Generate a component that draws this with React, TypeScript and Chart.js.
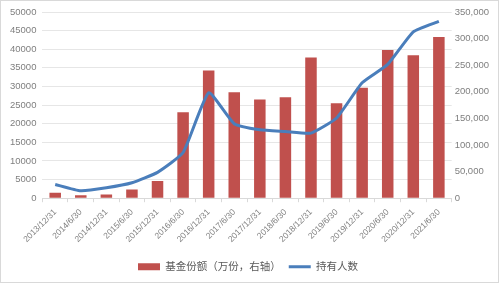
import React, { useEffect, useRef } from "react";
import { Chart, registerables } from "chart.js";

Chart.register(...registerables);

const categories = [
  "2013/12/31", "2014/6/30", "2014/12/31", "2015/6/30", "2015/12/31", "2016/6/30",
  "2016/12/31", "2017/6/30", "2017/12/31", "2018/6/30", "2018/12/31", "2019/6/30",
  "2019/12/31", "2020/6/30", "2020/12/31", "2021/6/30",
];
const fundShares = [
  1450, 800, 1000, 2350, 4600, 23050, 34300, 28450, 26500, 27100, 37800, 25500,
  29650, 39800, 38400, 43300,
];
const holders = [
  25900, 13900, 19500, 29000, 48600, 85800, 198000, 140000, 128700, 125500, 122300,
  150700, 217000, 251600, 312800, 332400,
];
const seriesNames = ["基金份额（万份，右轴）", "持有人数"];

const FONT = "'Liberation Sans', 'Noto Sans CJK SC', sans-serif";

const borderPlugin = {
  id: "outerBorder",
  afterDraw(chart: any) {
    const ctx = chart.ctx;
    ctx.save();
    ctx.strokeStyle = "#d9d9d9";
    ctx.lineWidth = 1;
    ctx.strokeRect(0.5, 0.5, chart.width - 2, chart.height - 1);
    ctx.restore();
  },
};

export default function App() {
  const ref = useRef<HTMLCanvasElement>(null);
  useEffect(() => {
    if (!ref.current) return;
    const chart = new Chart(ref.current, {
      type: "bar",
      data: {
        labels: categories,
        datasets: [
          {
            type: "bar",
            label: seriesNames[0],
            data: fundShares,
            backgroundColor: "#c0504d",
            borderWidth: 0,
            yAxisID: "y",
            barPercentage: 0.45,
            categoryPercentage: 1,
            pointStyle: "rect",
            order: 2,
          } as any,
          {
            type: "line",
            label: seriesNames[1],
            data: holders,
            borderColor: "#4a7ebb",
            backgroundColor: "#4a7ebb",
            borderWidth: 3,
            pointRadius: 0,
            tension: 0.15,
            yAxisID: "y1",
            pointStyle: "line",
            order: 1,
          } as any,
        ],
      },
      options: {
        responsive: false,
        animation: false,
        layout: { padding: { left: 4, right: 8, top: 12, bottom: 1 } },
        plugins: {
          tooltip: { enabled: false },
          legend: {
            position: "bottom",
            labels: {
              usePointStyle: true,
              pointStyleWidth: 22,
              boxHeight: 7,
              padding: 8,
              color: "#595959",
              font: { family: FONT, size: 10.5 },
              sort: (a: any, b: any) => a.datasetIndex - b.datasetIndex,
            },
          },
        },
        scales: {
          x: {
            afterFit: (scale: any) => {
              scale.height += 4;
            },
            grid: {
              display: true,
              drawOnChartArea: false,
              drawTicks: true,
              tickLength: 4,
              color: "#d9d9d9",
              offset: true,
            },
            border: { display: true, color: "#d9d9d9" },
            ticks: {
              minRotation: 45,
              maxRotation: 45,
              autoSkip: false,
              padding: 5,
              color: "#7f7f7f",
              font: { family: FONT, size: 8.5 },
            },
          },
          y: {
            position: "left",
            min: 0,
            max: 50000,
            grid: { color: "#e6e6e6", drawTicks: false },
            border: { display: false },
            ticks: {
              stepSize: 5000,
              padding: 6,
              color: "#7f7f7f",
              font: { family: FONT, size: 9.5 },
              callback: (v: any) => String(v),
            },
          },
          y1: {
            position: "right",
            min: 0,
            max: 350000,
            grid: { drawOnChartArea: false, drawTicks: false },
            border: { display: false },
            ticks: {
              stepSize: 50000,
              padding: 3,
              color: "#7f7f7f",
              font: { family: FONT, size: 9.5 },
              callback: (v: any) => Number(v).toLocaleString("en-US"),
            },
          },
        },
      },
      plugins: [borderPlugin],
    });
    return () => chart.destroy();
  }, []);
  return (
    <div style={{ position: "absolute", left: 0, top: 0, width: 500, height: 283, background: "#fff" }}>
      <canvas ref={ref} width={500} height={283} style={{ display: "block" }} />
    </div>
  );
}
